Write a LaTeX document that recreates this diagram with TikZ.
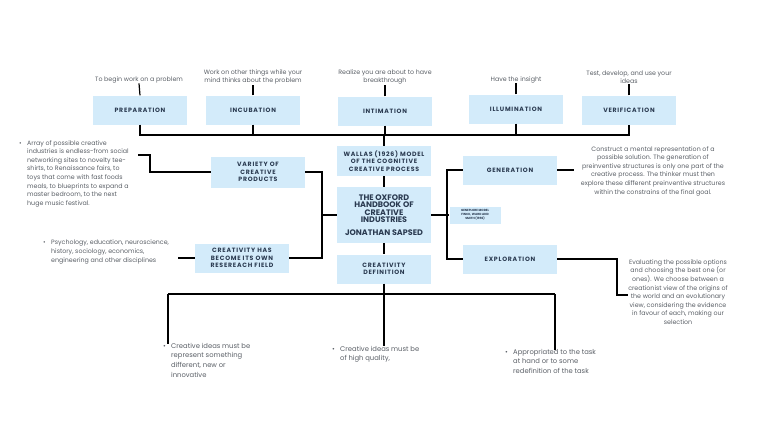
\documentclass[tikz,border=0pt]{standalone}
\usepackage{fontspec}
\setmainfont{Poppins}
\definecolor{boxblue}{HTML}{D3EBFA}
\definecolor{navy}{HTML}{2A3A50}
\definecolor{note}{HTML}{5A5F66}
\newcommand\bulA{\makebox[8pt][l]{\textbullet}}
\newcommand\indA{\hspace*{8pt}}
\begin{document}
\begin{tikzpicture}[x=1pt,y=-1pt,
    stage/.style={rectangle, fill=boxblue, minimum width=94pt, minimum height=29pt, inner sep=1pt,
      font=\fontsize{6.2}{7.4}\selectfont\bfseries\addfontfeatures{LetterSpace=12}, text=navy, align=center},
    title/.style={rectangle, fill=boxblue, minimum width=94pt, minimum height=56pt, inner sep=1pt,
      font=\fontsize{8}{7.5}\selectfont\bfseries, text=navy, align=center},
    tiny/.style={rectangle, fill=boxblue, minimum width=51pt, minimum height=17pt, inner sep=1pt,
      font=\fontsize{3}{3.8}\selectfont\bfseries, text=navy, align=center},
    note/.style={font=\fontsize{6.3}{8.6}\selectfont, text=note, align=center, inner sep=0pt},
    lnote/.style={note, align=left},
    link/.style={draw=black, line width=1.2pt},
]
\useasboundingbox (0,0) rectangle (768,431);

% Etapas de Wallas
\node[stage] (prep) at (140,110) {PREPARATION};
\node[stage] (incu) at (253,110) {INCUBATION};
\node[stage] (inti) at (385,111) {INTIMATION};
\node[stage] (illu) at (516,109) {ILLUMINATION};
\node[stage] (veri) at (629,110) {VERIFICATION};

% Descripciones de las etapas
\node[note] (prepN) at (139,80) {To begin work on a problem};
\node[note] (incuN) at (253,77) {Work on other things while your\\mind thinks about the problem};
\node[note] (intiN) at (385,77) {Realize you are about to have\\breakthrough};
\node[note] (illuN) at (516,80) {Have the insight};
\node[note] (veriN) at (629,77) {Test, develop, and use your\\ideas};

% Centro
\node[stage, minimum height=30pt] (wallas) at (384,161) {WALLAS (1926) MODEL\\OF THE COGNITIVE\\CREATIVE PROCESS};
\node[title] (oxford) at (384,215) {THE OXFORD\\HANDBOOK OF\\CREATIVE\\INDUSTRIES\\[5pt]JONATHAN SAPSED};
\node[stage] (defin) at (384,269) {CREATIVITY\\DEFINITION};

% Rama derecha
\node[stage] (gen) at (510,170) {GENERATION};
\node[tiny] (genep) at (475,215) {GENEPLORE MODEL\\FINCK, WARD AND\\SMITH (1992)};
\node[stage] (expl) at (510,259) {EXPLORATION};
\node[note] (genN) at (653,171) {Construct a mental representation of a\\possible solution. The generation of\\preinventive structures is only one part of the\\creative process. The thinker must then\\explore these different preinventive structures\\within the constrains of the final goal.};
\node[note] (explN) at (678,292) {Evaluating the possible options\\and choosing the best one (or\\ones). We choose between a\\creationist view of the origins of\\the world and an evolutionary\\view, considering the evidence\\in favour of each, making our\\selection};

% Rama izquierda
\node[stage, minimum height=31pt] (variety) at (258,172) {VARIETY OF\\CREATIVE\\PRODUCTS};
\node[stage] (field) at (242,258) {CREATIVITY HAS\\BECOME ITS OWN\\RESEREACH FIELD};
\node[lnote, anchor=north west] (varN) at (19,140) {\bulA Array of possible creative\\\indA industries is endless-from social\\\indA networking sites to novelty tee-\\\indA shirts, to Renaissance fairs, to\\\indA toys that come with fast foods\\\indA meals, to blueprints to expand a\\\indA master bedroom, to the next\\\indA huge music festival.};
\node[lnote, anchor=north west] (fieldN) at (43,240) {\bulA Psychology, education, neuroscience,\\\indA history, sociology, economics,\\\indA engineering and other disciplines};

% Definiciones
\node[lnote, anchor=north west, font=\fontsize{6.8}{9.6}\selectfont] (d1) at (163,343) {\bulA Creative ideas must be\\\indA represent something\\\indA different, new or\\\indA innovative};
\node[lnote, anchor=north west, font=\fontsize{6.8}{9.6}\selectfont] (d2) at (332,346) {\bulA Creative ideas must be\\\indA of high quality,};
\node[lnote, anchor=north west, font=\fontsize{6.8}{9.6}\selectfont] (d3) at (505,349) {\bulA Appropriated to the task\\\indA at hand or to some\\\indA redefinition of the task};

% Bus superior
\coordinate (busL) at (140,135);
\coordinate (busR) at (629,135);
\draw[link] (prep) -- (busL) -- (busR) -- (veri);
\draw[link] (incu) -- (incu |- busL);
\draw[link] (inti) -- (inti |- busL);
\draw[link] (illu) -- (illu |- busL);
\draw[link] (wallas) -- (wallas |- busL);
\foreach \s in {prep,incu,inti,illu,veri}
  \draw[link] (\s.north) -- (\s N.south);

% Centro vertical
\draw[link] (wallas) -- (oxford);
\draw[link] (oxford) -- (defin);

% Izquierda
\coordinate (lj) at (322,215);
\coordinate (fieldE) at (178,258);
\draw[link] (oxford.west) -- (lj);
\draw[link] (variety.east) -| (lj) |- (field.east);
\coordinate (varE) at (138,155);
\draw[link] (variety.west) -- (150,172) |- (varE);
\draw[link] (field.west) -- (fieldE);

% Derecha
\coordinate (rj) at (447,215);
\draw[link] (oxford.east) -- (genep.west);
\draw[link] (gen.west) -| (rj) |- (expl.west);
\draw[link] (gen.east) -- (574,170);
\draw[link] (expl.east) -- (617,259) |- (628,295);

% Bus inferior
\coordinate (bl) at (168,294);
\coordinate (br) at (555,294);
\draw[link] (defin) -- (defin |- bl);
\draw[link] (bl) -- (br);
\draw[link] (bl) -- (168,344);
\draw[link] (defin |- bl) -- (384,346);
\draw[link] (br) -- (555,350);
\end{tikzpicture}
\end{document}
